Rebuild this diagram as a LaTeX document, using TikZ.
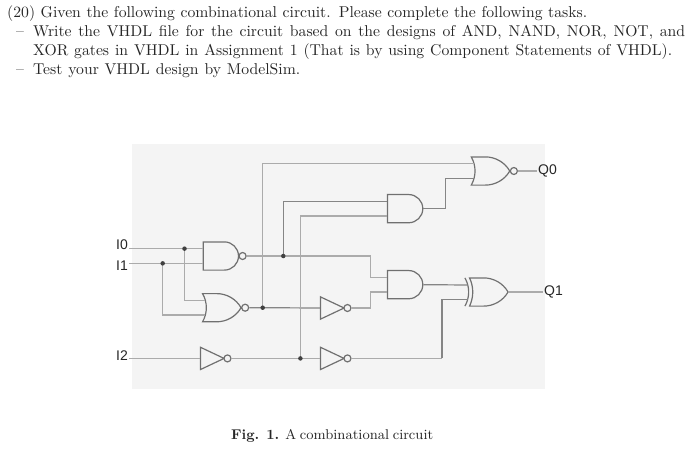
\documentclass[tikz,border=0pt]{standalone}
\usepackage{graphicx}
\usepackage{fontspec}
\newfontfamily\labelfont{Liberation Sans}
\usetikzlibrary{shapes.gates.logic.US}
\definecolor{panelgray}{HTML}{F4F4F4}
\definecolor{gategray}{HTML}{707070}
\definecolor{wiregray}{HTML}{ABABAB}
\newcommand{\fitline}[2]{\scalebox{1.57}{\makebox[\dimexpr#1*100/157\relax][s]{#2}}}
\tikzset{
	gatebase/.style={draw=gategray,line width=1.2pt,logic gate inputs=nn,inner sep=0pt,logic gate inverted radius=3.5pt,anchor=center},
	andgate/.style={and gate US,gatebase,minimum width=33.5pt,minimum height=23.5pt},
	nandgate/.style={nand gate US,gatebase,minimum width=33.5pt,minimum height=23.5pt},
	norgate/.style={nor gate US,gatebase,minimum width=30pt,minimum height=24pt},
	xorgate/.style={xor gate US,gatebase,minimum width=38pt,minimum height=24.5pt},
	notgate/.style={not gate US,gatebase,minimum width=11pt,minimum height=19pt},
	wire/.style={draw=wiregray,line width=1.3pt},
	darkwire/.style={draw=gategray!85,line width=1.2pt},
	junction/.style={circle,fill=black!75,inner sep=0pt,minimum size=4.5pt},
	sig/.style={font=\labelfont\fontsize{14}{16}\selectfont,text=black!85,inner sep=1pt},
	para/.style={anchor=base west,inner sep=0pt,text=black!85,font=\fontsize{10}{12}\selectfont},
}
\begin{document}
\begin{tikzpicture}[x=1pt,y=-1pt]
	\useasboundingbox (0,0) rectangle (700,461);
	\fill[panelgray] (132,144) rectangle (545,389);

	\node[para] (line1) at (7,17) {\fitline{580pt}{(20) Given the following combinational circuit. Please complete the following tasks.}};
	\node[para] (dash2) at (16,36) {\scalebox{1.57}{--}};
	\node[para] (line2) at (33,36) {\fitline{652pt}{Write the VHDL file for the circuit based on the designs of AND, NAND, NOR, NOT, and}};
	\node[para] (line3) at (33,55) {\fitline{639pt}{XOR gates in VHDL in Assignment 1 (That is by using Component Statements of VHDL).}};
	\node[para] (dash4) at (16,74) {\scalebox{1.57}{--}};
	\node[para] (line4) at (33,74) {\fitline{267pt}{Test your VHDL design by ModelSim.}};
	\node[para,font=\fontsize{9}{11}\selectfont] (caption) at (231,439) {\fitline{202pt}{\textbf{Fig. 1.} A combinational circuit}};

	\node[sig,anchor=east] (I0) at (129,245) {I0};
	\node[sig,anchor=east] (I1) at (129,265.5) {I1};
	\node[sig,anchor=east] (I2) at (129,356) {I2};
	\node[sig,anchor=west] (Q0) at (537,171) {Q0};
	\node[sig,anchor=west] (Q1) at (543,292) {Q1};

	\node[nandgate] (nandA) at (219.7,256) {};
	\node[norgate] (norA) at (219,307.7) {};
	\node[notgate] (notC) at (208.5,358.4) {};
	\node[notgate] (notA) at (328.5,308) {};
	\node[notgate] (notB) at (328.5,358.4) {};
	\node[andgate] (andA) at (404,208.65) {};
	\node[andgate] (andB) at (404,284.65) {};
	\node[norgate] (norB) at (487.7,171) {};
	\node[xorgate] (xorA) at (486,292) {};

	\coordinate (j0) at (184.5,248.65);
	\coordinate (j1) at (162.7,263.35);
	\coordinate (j2) at (262.7,307.7);
	\coordinate (j3) at (283.3,256);
	\coordinate (j4) at (300.4,358.4);
	\coordinate (c1) at (445.7,208.65);
	\coordinate (c2) at (370.3,256);
	\coordinate (c3) at (442,358.4);
	\coordinate (c4) at (370.3,292);
	\coordinate (p1) at (200,300.5);
	\coordinate (p2) at (200,314.9);
	\coordinate (p3) at (300,201.3);
	\coordinate (p4) at (300,216);
	\coordinate (p5) at (300,277.3);
	\coordinate (p6) at (300,163.8);
	\coordinate (p7) at (300,178.2);
	\coordinate (p8) at (300,285);
	\coordinate (p9) at (300,299.4);

	\draw[wire] (I0.east |- j0) -- (j0) -- (j0 -| nandA.input 1);
	\draw[wire] (I1.east |- j1) -- (j1) -- (j1 -| nandA.input 2);
	\draw[wire] (j0) |- (p1 -| norA.input 1);
	\draw[wire] (j1) |- (p2 -| norA.input 2);
	\draw[wire] (I2.east |- j4) -- (notC.input);
	\draw[wire] (notC.output) -- (j4) -- (notB.input);
	\draw[wire] (nandA.output) -- (j3) -- (c2) |- (p5 -| andB.input 1);
	\draw[darkwire] (norA.output) -- (j2) -- (notA.input);
	\draw[wire] (j2) |- (p6 -| norB.input 1);
	\draw[darkwire] (j3) |- (p3 -| andA.input 1);
	\draw[wire] (j4) |- (p4 -| andA.input 2);
	\draw[darkwire] (andA.output) -- (c1) |- (p7 -| norB.input 2);
	\draw[wire] (norB.output) -- (Q0.west);
	\draw[wire] (notA.output) -| (c4) -- (c4 -| andB.input 2);
	\draw[darkwire] (andB.output) -- (p8 -| xorA.input 1);
	\draw[wire] (notB.output) -- (c3);
	\draw[darkwire] (c3) |- (p9 -| xorA.input 2);
	\draw[wire] (xorA.output) -- (Q1.west);

	\foreach \j in {j0,j1,j2,j3,j4}
		\node[junction] (dot\j) at (\j) {};
\end{tikzpicture}
\end{document}
